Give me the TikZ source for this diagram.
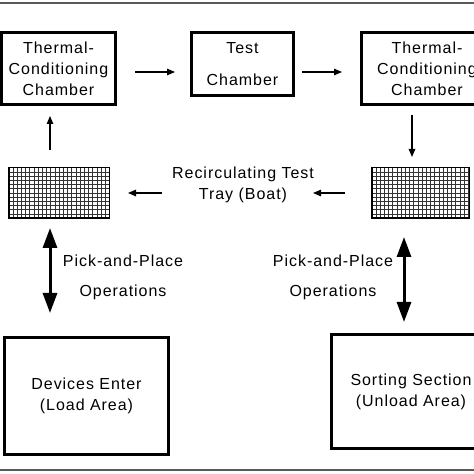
\documentclass[tikz,border=0pt]{standalone}
\usepackage{fontspec}
\setmainfont{Liberation Sans}[LetterSpace=6]
\usepackage{tikz}
\usetikzlibrary{positioning, arrows.meta, calc}

\begin{document}
\begin{tikzpicture}[x=1pt, y=1pt,
  chamber/.style={rectangle, draw, line width=3pt, align=center, font=\fontsize{16}{21}\selectfont},
  tray/.style={rectangle, draw, line width=1.5pt, inner sep=0pt, path picture={
      \foreach \k in {1,...,24} \draw[black!80, line width=0.8pt] ($(path picture bounding box.south west)+(\k*4.2,0)$) -- ++(0,60);
      \foreach \k in {1,...,12} \draw[black!80, line width=0.8pt] ($(path picture bounding box.south west)+(0,\k*4.2)$) -- ++(110,0);
    }},
  lbl/.style={align=center, inner sep=0pt, font=\fontsize{16}{21}\selectfont},
  flow/.style={-{Triangle[length=8pt, width=6.5pt]}, line width=1.2pt},
  dbl/.style={{Triangle[length=20pt, width=14pt]}-{Triangle[length=20pt, width=14pt]}, line width=3pt},
  frame/.style={black!65, line width=1.3pt}]
  \useasboundingbox (0,0) rectangle (474,474);
  \clip (0,0) rectangle (474,474);

  \node[chamber, minimum width=114pt, minimum height=72pt] (tcl) at (58.5,405.5) {Thermal-\\Conditioning\\Chamber};
  \node[chamber, minimum width=102pt, minimum height=63pt] (test) at (242.5,410) {Test\\[11pt]Chamber};
  \node[chamber, minimum width=131pt, minimum height=72pt] (tcr) at (427,405.5) {Thermal-\\Conditioning\\Chamber};
  \node[tray, minimum width=100.5pt, minimum height=50.5pt] (trayL) at (59,281) {};
  \node[tray, minimum width=97.5pt, minimum height=50.5pt] (trayR) at (420.5,281) {};
  \node[lbl] (recirc) at (243,289) {Recirculating Test\\Tray (Boat)};
  \node[lbl] (pnpL) at (123,197) {Pick-and-Place\\[9pt]Operations};
  \node[lbl] (pnpR) at (333,197) {Pick-and-Place\\[9pt]Operations};
  \node[chamber, minimum width=164pt, minimum height=117pt] (load) at (86.5,78) {Devices Enter\\(Load Area)};
  \node[chamber, minimum width=159pt, minimum height=114pt] (unload) at (411,82.5) {Sorting Section\\(Unload Area)};

  \draw[flow, shorten <=18pt, shorten >=15pt] (tcl.east |- 0,402) -- (test.west |- 0,402);
  \draw[flow, shorten <=7pt, shorten >=18pt] (test.east |- 0,402) -- (tcr.west |- 0,402);
  \draw[flow, shorten <=9pt, shorten >=10pt] (tcr.south -| 412,0) -- (trayR.north -| 412,0);
  \draw[flow] ([xshift=-26pt]trayR.west) -- ([xshift=-58pt]trayR.west);
  \draw[flow] ([xshift=52pt]trayL.east) -- ([xshift=18pt]trayL.east);
  \draw[flow, shorten <=17pt, shorten >=10pt] (trayL.north -| 50,0) -- (tcl.south -| 50,0);
  \draw[dbl, shorten <=9pt, shorten >=23pt] (trayL.south -| 50,0) -- (load.north -| 50,0);
  \draw[dbl, shorten <=18pt, shorten >=11pt] (trayR.south -| 404,0) -- (unload.north -| 404,0);

  \draw[frame] (0,471) -- (474,471);
  \draw[frame] (0,4) -- (474,4);
\end{tikzpicture}
\end{document}
